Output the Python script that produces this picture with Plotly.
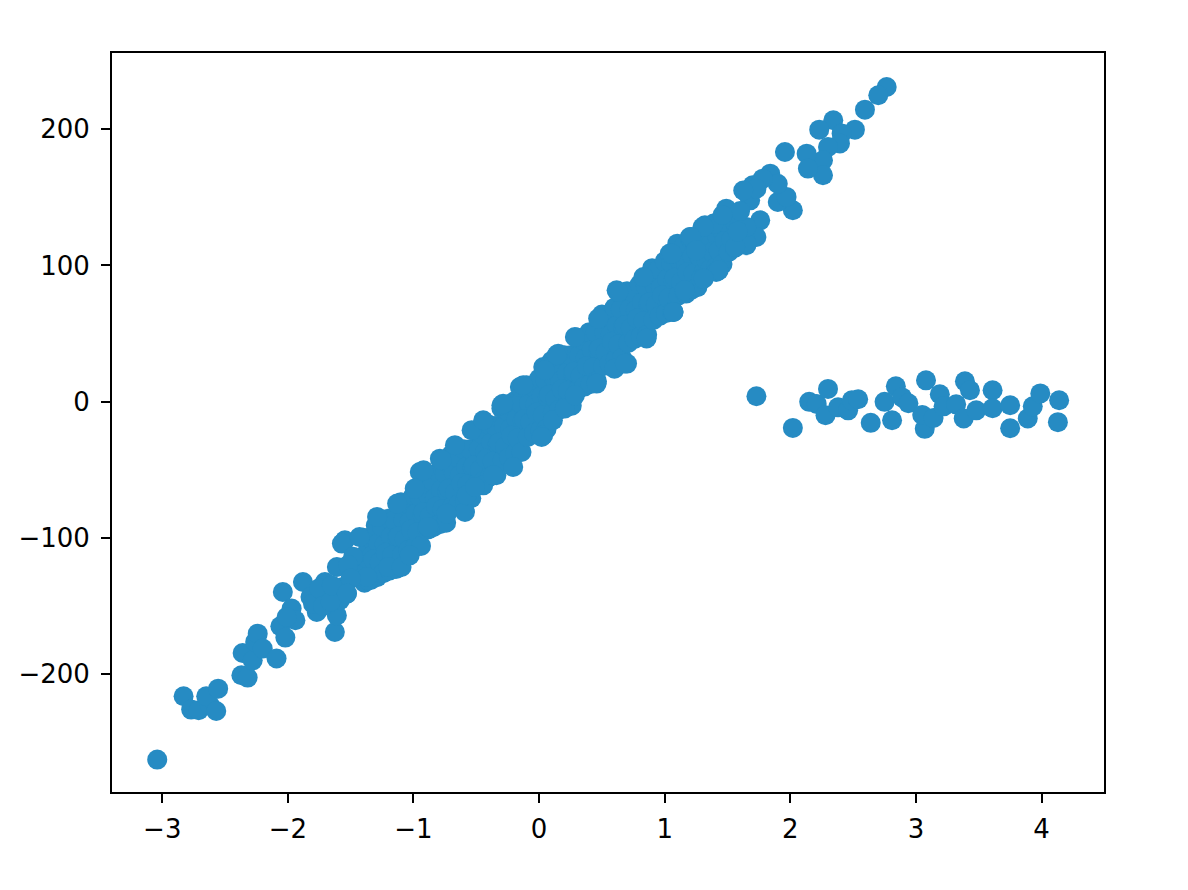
import plotly.graph_objects as go

# ---- main band (inliers) ----
x_band = [
    -1.40, -1.38, -1.42, -1.39, -1.35, -1.33, -1.37, -1.34,
    -1.30, -1.28, -1.32, -1.29, -1.25, -1.23, -1.27, -1.24,
    -1.20, -1.18, -1.22, -1.19, -1.15, -1.13, -1.17, -1.14,
    -1.10, -1.08, -1.12, -1.09, -1.05, -1.03, -1.07, -1.04,
    -1.00, -0.98, -1.02, -0.99, -0.95, -0.93, -0.97, -0.94,
    -0.90, -0.88, -0.92, -0.89, -0.85, -0.83, -0.87, -0.84,
    -0.80, -0.78, -0.82, -0.79, -0.75, -0.73, -0.77, -0.74,
    -0.70, -0.68, -0.72, -0.69, -0.65, -0.63, -0.67, -0.64,
    -0.60, -0.58, -0.62, -0.59, -0.55, -0.53, -0.57, -0.54,
    -0.50, -0.48, -0.52, -0.49, -0.45, -0.43, -0.47, -0.44,
    -0.40, -0.38, -0.42, -0.39, -0.35, -0.33, -0.37, -0.34,
    -0.30, -0.28, -0.32, -0.29, -0.25, -0.23, -0.27, -0.24,
    -0.20, -0.18, -0.22, -0.19, -0.15, -0.13, -0.17, -0.14,
    -0.10, -0.08, -0.12, -0.09, -0.05, -0.03, -0.07, -0.04,
    0.00, 0.02, -0.02, 0.01, 0.05, 0.07, 0.03, 0.06,
    0.10, 0.12, 0.08, 0.11, 0.15, 0.17, 0.13, 0.16,
    0.20, 0.22, 0.18, 0.21, 0.25, 0.27, 0.23, 0.26,
    0.30, 0.32, 0.28, 0.31, 0.35, 0.37, 0.33, 0.36,
    0.40, 0.42, 0.38, 0.41, 0.45, 0.47, 0.43, 0.46,
    0.50, 0.52, 0.48, 0.51, 0.55, 0.57, 0.53, 0.56,
    0.60, 0.62, 0.58, 0.61, 0.65, 0.67, 0.63, 0.66,
    0.70, 0.72, 0.68, 0.71, 0.75, 0.77, 0.73, 0.76,
    0.80, 0.82, 0.78, 0.81, 0.85, 0.87, 0.83, 0.86,
    0.90, 0.92, 0.88, 0.91, 0.95, 0.97, 0.93, 0.96,
    1.00, 1.02, 0.98, 1.01, 1.05, 1.07, 1.03, 1.06,
    1.10, 1.12, 1.08, 1.11, 1.15, 1.17, 1.13, 1.16,
    1.20, 1.22, 1.18, 1.21, 1.25, 1.27, 1.23, 1.26,
    1.30, 1.32, 1.28, 1.31, 1.35, 1.37, 1.33, 1.36,
    1.40, 1.42, 1.38, 1.41, 1.45, 1.47, 1.43, 1.46,
    1.50, 1.52, 1.48, 1.51, 1.55, 1.57, 1.53, 1.56,
]
y_band = [
    -100, -112, -124, -133, -100, -113, -124, -131,
    -91, -104, -116, -129, -92, -105, -118, -126,
    -86, -99, -111, -124, -87, -100, -113, -123,
    -74, -87, -99, -112, -75, -88, -101, -109,
    -69, -82, -94, -107, -70, -83, -96, -106,
    -56, -69, -81, -94, -58, -71, -84, -92,
    -52, -65, -77, -90, -53, -66, -79, -89,
    -39, -52, -64, -77, -41, -54, -67, -75,
    -35, -48, -60, -73, -35, -48, -61, -71,
    -22, -35, -47, -60, -24, -37, -50, -58,
    -17, -30, -42, -55, -18, -31, -44, -54,
    -5, -18, -30, -43, -7, -20, -33, -41,
    0, -13, -25, -38, -1, -14, -27, -37,
    12, -1, -13, -26, 11, -2, -15, -23,
    17, 4, -8, -21, 16, 3, -10, -20,
    30, 17, 5, -8, 28, 15, 2, -6,
    34, 21, 9, -4, 34, 21, 8, -3,
    47, 34, 22, 9, 45, 32, 19, 11,
    51, 38, 26, 13, 51, 38, 25, 15,
    64, 51, 39, 26, 62, 49, 36, 28,
    69, 56, 44, 31, 68, 55, 42, 32,
    81, 68, 56, 43, 80, 67, 54, 46,
    86, 73, 61, 48, 85, 72, 59, 49,
    98, 85, 73, 60, 97, 84, 71, 63,
    103, 90, 78, 65, 102, 89, 76, 66,
    116, 103, 91, 78, 114, 101, 88, 80,
    120, 107, 95, 82, 120, 107, 94, 84,
    128, 118, 106, 95, 129, 116, 104, 97,
    131, 121, 110, 99, 133, 122, 111, 101,
    138, 128, 118, 110, 136, 126, 119, 113,
]

# ---- edges of the band ----
x_edge = [
    -1.546, -1.29, -1.13, -0.95, -0.79, -0.67, -0.537, -0.445, -0.30, -0.153,
    0.033, 0.152, 0.285, 0.47, 0.617, 0.83, 1.04, 1.20, 1.32, 0.63,
    0.139, 0.046, -0.127, -0.286, -0.776, -0.92, -0.99,
    -1.53, -1.36, -1.20, -1.095, -1.03, -0.87, -0.59, -0.577, -0.445,
    -0.206, 0.033, 0.11, 0.205, 0.458, 0.60, 0.70, 0.856, 1.07, 1.29,
    1.17, 1.41, 0.683, 0.285, 0.02, -0.365, -0.51, -0.736, -0.883, 1.65,
]
y_edge = [
    -101.9, -84.7, -74.9, -51.7, -41.9, -32.0, -21.0, -13.7, -2.7, 10.7,
    25.4, 35.2, 47.4, 61.0, 81.7, 91.5, 108.7, 120.9, 129.5, 80.5,
    34.0, 23.0, 12.0, -1.5, -43.0, -50.5, -63.9,
    -141.0, -131.2, -121.5, -121.5, -112.9, -93.3, -81.0, -68.8, -61.5,
    -48.0, -24.7, -13.7, -5.1, 13.2, 24.2, 27.9, 46.3, 65.8, 90.3,
    79.3, 95.2, 27.9, 4.6, -26.0, -54.0, -62.7, -82.3, -92.0, 114.8,
]

# ---- sparse upper tail ----
x_upper = [
    2.767, 2.70, 2.594, 2.514, 2.342, 2.23, 2.408, 2.395, 2.30, 2.26,
    2.26, 2.13, 2.14, 1.957, 2.02, 1.90, 1.97, 1.84, 1.90, 1.70,
    1.78, 1.68, 1.76, 1.73, 1.65, 1.49, 1.55, 1.39, 1.31, 1.21,
    1.25, 1.43, 1.31, 1.56, 1.65, 1.055, 1.16, 1.07, 1.73, 1.625,
    1.60, 1.46, 1.58,
]
y_upper = [
    231.0, 225.0, 214.4, 199.7, 206.6, 199.7, 196.8, 189.5, 187.0, 177.2,
    166.2, 182.1, 171.1, 183.3, 140.5, 146.6, 150.3, 167.4, 160.0, 158.9,
    163.7, 147.8, 133.1, 120.9, 116.0, 141.7, 133.1, 130.7, 128.2, 120.9,
    111.1, 96.4, 90.3, 113.5, 128.2, 108.7, 81.7, 65.8, 156.4, 155.0,
    140.0, 137.0, 125.0,
]

# ---- sparse lower tail ----
x_lower = [
    -3.04, -2.83, -2.77, -2.71, -2.62, -2.65, -2.57, -2.555, -2.37, -2.32,
    -2.36, -2.28, -2.26, -2.24, -2.20, -2.09, -2.06, -2.02, -2.04, -1.97,
    -1.94, -2.01, -1.88, -1.82, -1.77, -1.80, -1.705, -1.626, -1.61, -1.586,
    -1.61, -1.57, -1.56, -1.69, -1.45, -1.43, -1.37, -1.48, -1.75, -1.72,
    -1.66, -1.65, -1.52, -1.50, -1.53,
]
y_lower = [
    -262.9, -216.4, -226.2, -226.7, -223.0, -216.4, -227.2, -210.8, -201.0, -202.7,
    -184.6, -190.0, -176.5, -170.4, -181.4, -188.7, -165.0, -173.3, -139.8, -152.0,
    -160.6, -158.2, -132.5, -143.5, -154.5, -148.4, -132.5, -169.2, -157.0, -145.9,
    -121.5, -104.3, -136.2, -141.0, -127.6, -99.4, -128.8, -114.0, -137.0, -150.0,
    -147.0, -135.0, -120.0, -130.0, -141.0,
]

# ---- outlier cluster on the right ----
x_out = [
    1.73, 2.02, 2.15, 2.21, 2.30, 2.28, 2.38, 2.46, 2.49, 2.54,
    2.64, 2.75, 2.84, 2.81, 2.89, 2.94, 3.08, 3.07, 3.05, 3.14,
    3.19, 3.22, 3.32, 3.39, 3.43, 3.38, 3.48, 3.61, 3.61, 3.75,
    3.75, 3.89, 3.93, 3.99, 4.14, 4.13,
]
y_out = [
    3.9, -19.3, -0.2, -1.7, 9.3, -10.0, -4.2, -6.4, 0.9, 1.7,
    -15.6, -0.2, 11.2, -13.7, 3.1, -1.2, 15.6, -20.0, -9.8, -12.0,
    5.4, -3.5, -2.0, 14.9, 8.3, -12.4, -6.4, 8.3, -4.9, -2.7,
    -19.6, -12.4, -3.5, 6.0, 1.0, -15.1,
]

tick_x = [-3, -2, -1, 0, 1, 2, 3, 4]
tick_y = [-200, -100, 0, 100, 200]

xs = x_band + x_edge + x_upper + x_lower + x_out
ys = y_band + y_edge + y_upper + y_lower + y_out

color = "#268bc3"
fig = go.Figure(
    go.Scatter(
        x=xs, y=ys, mode="markers",
        marker=dict(size=20, color=color, line=dict(width=0)),
        showlegend=False, hoverinfo="x+y",
    )
)

axis_common = dict(
    showgrid=False, zeroline=False, showline=True, linecolor="black",
    linewidth=2, mirror=True, ticks="outside", ticklen=9, tickwidth=2,
    tickcolor="black", automargin=False,
    tickfont=dict(family="DejaVu Sans", size=26, color="black"),
)
fig.update_xaxes(range=[-3.40, 4.497], tickvals=tick_x, ticklabelstandoff=4, **axis_common)
fig.update_yaxes(range=[-286.7, 256.0], tickvals=tick_y, ticklabelstandoff=6, **axis_common)

fig.update_layout(
    width=1180, height=882,
    margin=dict(l=104, r=84, t=45, b=98),
    plot_bgcolor="white", paper_bgcolor="white",
)

fig.write_html("out.html")
